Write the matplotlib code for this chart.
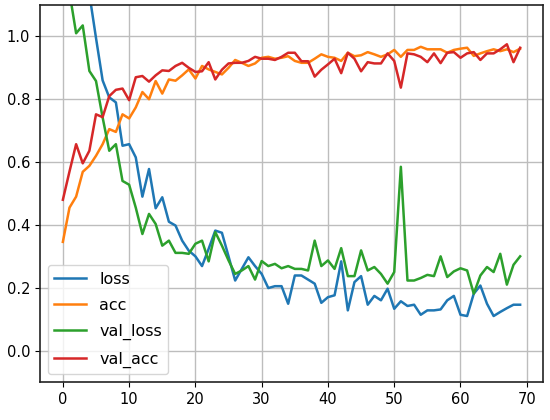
import matplotlib
matplotlib.use("Agg")
import matplotlib.pyplot as plt

epochs = list(range(70))

loss = [2.2, 1.7, 1.45, 1.25, 1.135, 0.995, 0.86, 0.806, 0.79, 0.652,
        0.657, 0.615, 0.49, 0.578, 0.453, 0.488, 0.41, 0.398, 0.35, 0.318,
        0.3, 0.269, 0.324, 0.382, 0.375, 0.3, 0.223, 0.26, 0.297, 0.269,
        0.244, 0.199, 0.205, 0.205, 0.149, 0.239, 0.239, 0.226, 0.213, 0.152,
        0.17, 0.176, 0.284, 0.128, 0.218, 0.237, 0.146, 0.174, 0.16, 0.197,
        0.133, 0.157, 0.142, 0.146, 0.114, 0.128, 0.128, 0.131, 0.16, 0.174,
        0.114, 0.11, 0.181, 0.207, 0.149, 0.11, 0.123, 0.135, 0.146, 0.146]

acc = [0.346, 0.455, 0.49, 0.569, 0.588, 0.62, 0.657, 0.705, 0.696, 0.752,
       0.739, 0.774, 0.823, 0.8, 0.858, 0.818, 0.863, 0.859, 0.876, 0.895,
       0.866, 0.906, 0.895, 0.887, 0.879, 0.9, 0.925, 0.916, 0.906, 0.914,
       0.932, 0.935, 0.929, 0.932, 0.937, 0.922, 0.916, 0.916, 0.929, 0.943,
       0.935, 0.932, 0.922, 0.948, 0.937, 0.94, 0.95, 0.943, 0.935, 0.943,
       0.957, 0.935, 0.957, 0.957, 0.967, 0.959, 0.959, 0.959, 0.948, 0.957,
       0.961, 0.964, 0.938, 0.946, 0.953, 0.959, 0.953, 0.959, 0.95, 0.961]

val_loss = [1.4, 1.14, 1.01, 1.035, 0.89, 0.858, 0.742, 0.636, 0.657, 0.54,
            0.528, 0.455, 0.371, 0.435, 0.403, 0.334, 0.35, 0.311, 0.311, 0.308,
            0.34, 0.35, 0.284, 0.377, 0.334, 0.287, 0.244, 0.255, 0.269, 0.226,
            0.285, 0.269, 0.276, 0.262, 0.269, 0.26, 0.26, 0.255, 0.35, 0.269,
            0.287, 0.26, 0.326, 0.237, 0.237, 0.319, 0.255, 0.266, 0.244, 0.213,
            0.25, 0.585, 0.223, 0.223, 0.231, 0.241, 0.237, 0.3, 0.234, 0.252,
            0.262, 0.255, 0.181, 0.239, 0.266, 0.25, 0.308, 0.21, 0.273, 0.3]

val_acc = [0.48, 0.57, 0.657, 0.596, 0.636, 0.752, 0.743, 0.81, 0.83, 0.834,
           0.797, 0.87, 0.874, 0.856, 0.876, 0.892, 0.89, 0.906, 0.916, 0.9,
           0.887, 0.889, 0.918, 0.863, 0.894, 0.914, 0.916, 0.916, 0.922, 0.935,
           0.929, 0.929, 0.925, 0.935, 0.948, 0.948, 0.921, 0.921, 0.872, 0.894,
           0.911, 0.929, 0.883, 0.948, 0.929, 0.889, 0.918, 0.914, 0.914, 0.946,
           0.922, 0.837, 0.946, 0.943, 0.935, 0.918, 0.946, 0.915, 0.948, 0.95,
           0.932, 0.946, 0.95, 0.925, 0.946, 0.946, 0.959, 0.975, 0.918, 0.964]

series = [("loss", loss), ("acc", acc), ("val_loss", val_loss), ("val_acc", val_acc)]

fig = plt.figure(figsize=(5.5, 4.2), dpi=100)
ax = fig.add_axes([40/550, 1-382/420, (543-40)/550, (382-5)/420])
for name, vals in series:
    ax.plot(epochs, vals, label=name, linewidth=1.8)
ax.set_ylim(-0.1, 1.1)
ax.set_xticks([0, 10, 20, 30, 40, 50, 60, 70])
ax.set_yticks([0.0, 0.2, 0.4, 0.6, 0.8, 1.0])
ax.grid(True, color="#bdbdbd", linewidth=1.0)
ax.tick_params(labelsize=10.5)
for s in ax.spines.values():
    s.set_linewidth(1.2)
    s.set_color("#222222")
ax.legend(loc="lower left", fontsize=11.5, labelspacing=0.7)
fig.savefig("out.png", dpi=100)
